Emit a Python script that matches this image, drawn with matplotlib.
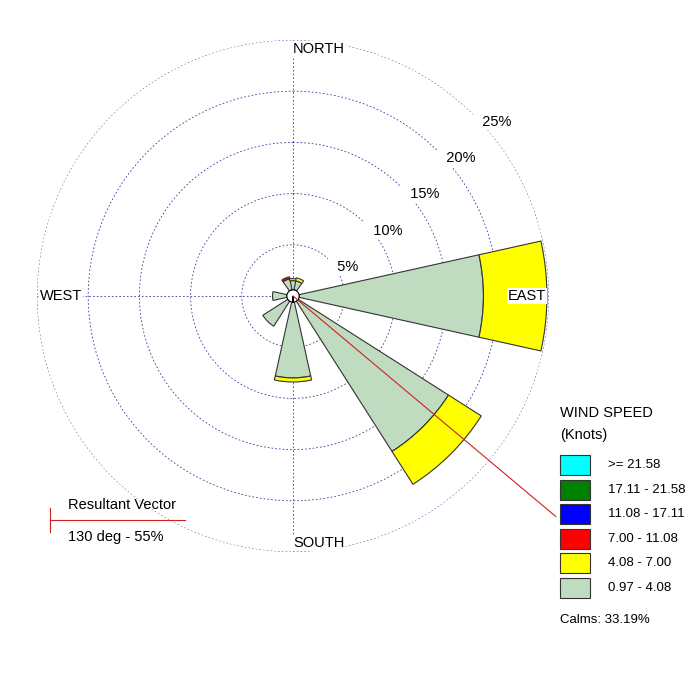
import matplotlib.pyplot as plt
import numpy as np
from matplotlib.lines import Line2D
from matplotlib.patches import Rectangle

plt.rcParams['font.family'] = ['Liberation Sans', 'DejaVu Sans']

# direction (compass deg) and percent per speed class
directions = [0, 22.5, 90, 135, 180, 225, 270, 337.5]
pct_097_408 = [0.9, 0.9, 18.0, 17.4, 7.4, 2.9, 1.4, 1.1]
pct_408_700 = [0.2, 0.3, 6.2, 3.8, 0.4, 0.0, 0.0, 0.0]
pct_700_1108 = [0.0, 0.0, 0.0, 0.0, 0.0, 0.0, 0.0, 0.2]

class_labels = [">= 21.58", "17.11 - 21.58", "11.08 - 17.11",
                "7.00 - 11.08", "4.08 - 7.00", "0.97 - 4.08"]
class_colors = ["#00ffff", "#008000", "#0000ff", "#ff0000", "#ffff00", "#c0dcc0"]
ring_values = [5, 10, 15, 20, 25]
calm_pct = 33.19
resultant_dir = 130
resultant_pct = 55

calm_r = 0.6
fig = plt.figure(figsize=(7, 7), dpi=100, facecolor="white")
ax = fig.add_axes([37 / 700, 148 / 700, 512 / 700, 512 / 700], projection="polar")
ax.set_theta_zero_location("N")
ax.set_theta_direction(-1)
ax.set_ylim(0, 25)
ax.set_axis_off()

grid_kw = dict(color="#3a3a9a", lw=0.6, ls=(0, (2, 2.5)))
th = np.linspace(0, 2 * np.pi, 400)
for r in ring_values:
    ax.plot(th, np.full_like(th, r), **grid_kw)
for a in [0, 90, 180, 270]:
    ax.plot([np.radians(a)] * 2, [0, 25], **grid_kw)

theta = np.radians(directions)
width = np.radians(25)
bottom = np.full(len(directions), calm_r)
stacks = [(pct_097_408, "#c0dcc0"), (pct_408_700, "#ffff00"), (pct_700_1108, "#ff0000")]
for vals, col in stacks:
    vals = np.array(vals)
    mask = vals > 0
    ax.bar(theta[mask], vals[mask], width=width, bottom=bottom[mask],
           color=col, edgecolor="#333333", linewidth=0.8, zorder=3)
    bottom = bottom + vals

ax.bar([0], [calm_r], width=2 * np.pi, bottom=0, color="white",
       edgecolor="black", linewidth=0.8, zorder=4)

ax.plot([np.radians(resultant_dir)] * 2, [0, 33.5], color="#d02020", lw=0.8,
        zorder=5, clip_on=False)

for r in ring_values:
    ax.text(np.radians(45), r, f"  {r}%", ha="left", va="top", fontsize=10.5,
            zorder=6, bbox=dict(facecolor="white", edgecolor="none", pad=1))

cardinal = [("NORTH", 0, "left", "center", 24.1), ("SOUTH", 180, "left", "center", 24.1),
            ("WEST", 270, "left", "center", 24.7), ("EAST", 90, "right", "center", 24.7)]
for name, a, ha, va, r in cardinal:
    ax.text(np.radians(a), r, name, ha=ha, va=va, fontsize=10.5, zorder=6,
            bbox=dict(facecolor="white", edgecolor="none", pad=0.5))

# legend
fig.text(560 / 700, 1 - 413 / 700, "WIND SPEED", fontsize=10.5, va="center")
fig.text(560 / 700, 1 - 435 / 700, "(Knots)", fontsize=10.5, va="center")
for i, (lab, col) in enumerate(zip(class_labels, class_colors)):
    yc = 465 + i * 24.6
    fig.add_artist(Rectangle((560 / 700, 1 - (yc + 10) / 700), 30 / 700, 20 / 700,
                             facecolor=col, edgecolor="#333333", lw=0.8,
                             transform=fig.transFigure))
    fig.text(608 / 700, 1 - yc / 700, lab, fontsize=9.5, va="center")
fig.text(560 / 700, 1 - 620 / 700, f"Calms: {calm_pct:.2f}%", fontsize=9.5, va="center")

# resultant vector box
fig.add_artist(Line2D([50 / 700, 185 / 700], [1 - 520 / 700] * 2, color="#d02020",
                      lw=0.8, transform=fig.transFigure))
fig.add_artist(Line2D([50 / 700] * 2, [1 - 508 / 700, 1 - 532 / 700], color="#d02020",
                      lw=0.8, transform=fig.transFigure))
fig.text(68 / 700, 1 - 505 / 700, "Resultant Vector", fontsize=10.5, va="center")
fig.text(68 / 700, 1 - 537 / 700, f"{resultant_dir} deg - {resultant_pct}%",
         fontsize=10.5, va="center")

fig.savefig("out.png", dpi=100, facecolor="white")
